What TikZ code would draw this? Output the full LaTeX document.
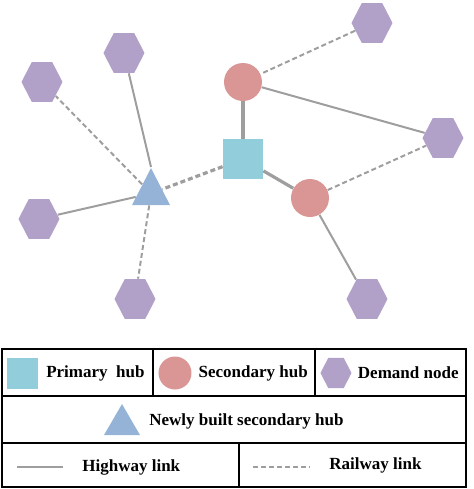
\documentclass[tikz,border=0pt]{standalone}
\usepackage{fontspec}
\setmainfont{Liberation Serif}
\usetikzlibrary{shapes.geometric,positioning}

\definecolor{hubcyan}{RGB}{146,205,220}
\definecolor{hubred}{RGB}{218,150,148}
\definecolor{demandpurple}{RGB}{177,160,199}
\definecolor{newblue}{RGB}{149,179,215}
\definecolor{linkgray}{RGB}{158,158,158}

\begin{document}
\begin{tikzpicture}[x=0.5pt,y=-0.5pt,
        demand node/.style={regular polygon, regular polygon sides=6, fill=demandpurple,
        inner sep=0pt, minimum size=20.5pt, yscale=1.12, transform shape},
        secondary node/.style={circle, fill=hubred, inner sep=0pt, minimum size=19pt},
        primary node/.style={rectangle, fill=hubcyan, inner sep=0pt, minimum size=20pt},
        new node/.style={isosceles triangle, isosceles triangle stretches,
        shape border rotate=90, fill=newblue, inner sep=0pt,
        minimum width=19pt, minimum height=18.5pt},
        highway/.style={draw=linkgray, line width=1pt},
        railway/.style={draw=linkgray, line width=1pt, dash pattern=on 2.5pt off 1.5pt},
        trunk/.style={line width=1.6pt},
        label text/.style={font=\bfseries\fontsize{8.5}{10}\selectfont, inner sep=0pt}
        ]
        \useasboundingbox (0,0) rectangle (474,489);

        % network
        \node [demand node] (d1) at (372,23) {} ;
        \node [demand node] (d2) at (124,53) {} ;
        \node [demand node] (d3) at (42,82) {} ;
        \node [demand node] (d4) at (443,138) {} ;
        \node [demand node] (d5) at (39,219) {} ;
        \node [demand node] (d6) at (135,299) {} ;
        \node [demand node] (d7) at (367,299) {} ;
        \node [secondary node] (s1) at (243,82) {} ;
        \node [secondary node] (s2) at (310,198) {} ;
        \node [primary node] (p) at (243,159) {} ;
        \node [new node, anchor=apex] (n) at (151,167) {} ;

        \path
        (d1) edge [railway] (s1)
        (s1) edge [highway] (d4)
        (s1) edge [highway, trunk] (p)
        (p) edge [highway, trunk] (s2)
        (s2) edge [railway] (d4)
        (s2) edge [highway] (d7)
        (p) edge [railway, trunk] (n)
        (d2) edge [highway] (n.apex)
        (n) edge [railway] (d3)
        (n) edge [highway] (d5)
        (n) edge [railway] (d6)
        ;

        % legend
        \draw [line width=0.8pt] (2,349) rectangle (466,487);
        \draw [line width=0.8pt] (2,396) -- (466,396) (2,443) -- (466,443)
        (153,349) -- (153,396) (315,349) -- (315,396) (239,443) -- (239,487);

        \node [primary node, minimum size=15.5pt] (lp) at (23,373) {} ;
        \node [label text, right=3.5pt of lp] (lpt) {Primary~ hub} ;
        \node [secondary node, minimum size=16.5pt] (ls) at (175,373) {} ;
        \node [label text, right=3.2pt of ls] (lst) {Secondary hub} ;
        \node [demand node, minimum size=15.5pt] (ld) at (336,373) {} ;
        \node [label text, right=2.8pt of ld] (ldt) {Demand node} ;
        \node [new node, minimum width=18pt, minimum height=15.5pt, anchor=apex] (ln) at (122,403) {} ;
        \node [label text, anchor=west] (lnt) at (149,421) {Newly built secondary hub} ;

        \coordinate (hw a) at (17,467);
        \coordinate (hw b) at (63,467);
        \coordinate (rw a) at (253,467);
        \coordinate (rw b) at (310,467);
        \draw [highway] (hw a) -- (hw b);
        \draw [railway] (rw a) -- (rw b);
        \node [label text, anchor=west] (hwt) at (82,467) {Highway link} ;
        \node [label text, anchor=west] (rwt) at (329,465) {Railway link} ;
     \end{tikzpicture}
\end{document}
